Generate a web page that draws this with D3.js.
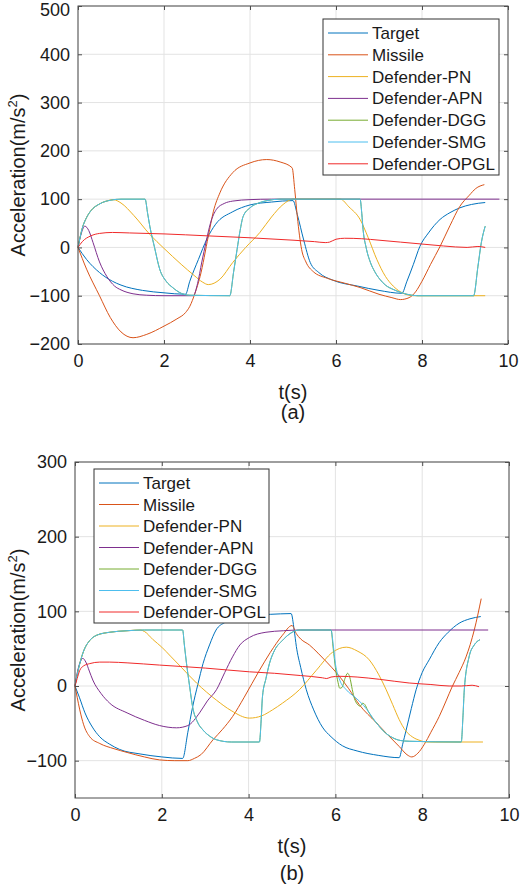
<!DOCTYPE html>
<html>
<head>
<meta charset="utf-8">
<script src="https://cdn.jsdelivr.net/npm/d3@7"></script>
<style>
  body { margin: 0; background: #fff; }
  text { font-family: "Liberation Sans", Arial, sans-serif; fill: #1a1a1a; }
</style>
</head>
<body>
<div id="chart"></div>
<script>
// series names + colours (MATLAB default order)
const seriesNames = ["Target", "Missile", "Defender-PN", "Defender-APN", "Defender-DGG", "Defender-SMG", "Defender-OPGL"];
const colors = ["#0072BD", "#D95319", "#EDB120", "#7E2F8E", "#77AC30", "#4DBEEE", "#F02A2A"];

const xTicks = [0, 2, 4, 6, 8, 10];
const yTicksA = [-200, -100, 0, 100, 200, 300, 400, 500];
const yTicksB = [-100, 0, 100, 200, 300];

// ---- panel (a) : [t, acceleration]
const targetA = [[0,0],[0.2,-25],[0.5,-52],[0.8,-70],[1.0,-78],[1.5,-89],[2.0,-94],[2.5,-97],[2.6,-70],[2.8,-25],[3.0,18],[3.2,48],[3.6,74],[4.0,88],[4.5,94],[5.0,97],[5.1,68],[5.25,15],[5.4,-31],[5.6,-52],[5.93,-68],[6.5,-80],[7.0,-89],[7.53,-95],[7.65,-70],[7.8,-35],[7.95,2],[8.15,30],[8.42,58],[8.65,72],[8.88,82],[9.15,89],[9.47,93]];
const missileA = [[0,0],[0.2,-45],[0.5,-100],[0.75,-145],[1.0,-175],[1.28,-187],[1.6,-180],[2.0,-163],[2.3,-148],[2.5,-135],[2.6,-122],[2.72,-95],[2.84,-60],[3.03,23],[3.15,75],[3.3,113],[3.6,155],[4.0,175],[4.39,182],[4.7,177],[4.98,165],[5.04,120],[5.1,64],[5.2,-4],[5.3,-30],[5.47,-50],[5.8,-64],[6.2,-74],[6.56,-83],[7.0,-97],[7.3,-104],[7.5,-108],[7.7,-104],[7.85,-92],[8.0,-70],[8.2,-35],[8.42,2],[8.65,45],[8.88,85],[9.1,108],[9.25,122],[9.45,130]];
const pnA = [[0,0],[0.1,40],[0.2,62],[0.3,76],[0.5,90],[0.7,97],[0.82,99],[1.0,92],[1.3,66],[1.67,27],[2.0,-2],[2.4,-35],[2.7,-58],[2.9,-72],[3.03,-77],[3.3,-66],[3.6,-31],[3.9,0],[4.23,31],[4.5,63],[4.77,89],[5.0,100],[6.1,100],[6.3,84],[6.56,58],[6.75,20],[6.95,-25],[7.15,-60],[7.33,-80],[7.5,-92],[7.65,-98],[7.8,-100],[9.47,-100]];
const apnA = [[0,0],[0.08,30],[0.16,44],[0.25,35],[0.35,10],[0.5,-30],[0.67,-60],[0.85,-80],[1.0,-88],[1.28,-96],[1.6,-99],[2.0,-100],[2.68,-100],[2.78,-75],[2.88,-30],[2.98,12],[3.08,50],[3.22,79],[3.4,91],[3.6,96],[4.0,99],[4.5,100],[9.8,100]];
const smgA = [[0,0],[0.1,40],[0.2,62],[0.3,76],[0.5,90],[0.77,98],[1.0,100],[1.56,100],[1.62,70],[1.67,44],[1.78,0],[1.9,-45],[2.05,-70],[2.2,-83],[2.4,-95],[2.6,-99],[3.53,-100],[3.62,-50],[3.7,-4],[3.77,35],[3.84,64],[4.0,82],[4.2,92],[4.4,97],[4.7,100],[6.56,100],[6.6,70],[6.63,37],[6.7,0],[6.8,-31],[6.9,-50],[7.02,-66],[7.15,-78],[7.33,-87],[7.5,-93],[7.65,-97],[7.9,-100],[9.2,-100],[9.3,-40],[9.38,10],[9.47,44]];
const dggA = smgA; // hidden under SMG in (a)
const opglA = [[0,0],[0.1,12],[0.3,24],[0.5,29],[0.8,31],[1.2,30],[2,28],[3,24],[4,20],[5,15],[5.5,12],[5.75,10],[5.85,11],[6.0,17],[6.2,19],[6.6,18],[7.0,15],[7.5,11],[8.0,7],[8.5,3],[9.05,0],[9.3,2],[9.47,0]];

// ---- panel (b)
const targetB = [[0,0],[0.1,-15],[0.23,-36],[0.4,-55],[0.57,-68],[0.8,-78],[1.03,-85],[1.5,-91],[2.0,-95],[2.48,-97],[2.6,-62],[2.71,-28],[2.83,2],[2.95,30],[3.1,55],[3.25,75],[3.45,85],[3.63,90],[4.02,95],[4.5,96],[4.98,97],[5.05,75],[5.1,53],[5.2,25],[5.33,-5],[5.5,-32],[5.7,-55],[5.9,-68],[6.16,-80],[6.5,-87],[7.0,-93],[7.47,-96],[7.55,-78],[7.63,-59],[7.75,-30],[7.86,-5],[8.0,18],[8.16,35],[8.39,58],[8.6,72],[8.85,84],[9.1,90],[9.35,93]];
const missileB = [[0,0],[0.05,-15],[0.11,-32],[0.2,-52],[0.34,-68],[0.57,-77],[0.9,-84],[1.2,-89],[1.6,-95],[1.95,-99],[2.3,-100],[2.6,-100],[2.75,-97],[2.9,-92],[3.18,-72],[3.4,-58],[3.63,-41],[3.9,-15],[4.25,21],[4.5,45],[4.78,68],[5.0,81],[5.1,70],[5.2,63],[5.4,55],[5.6,44],[5.8,32],[6.02,18],[6.3,-3],[6.55,-25],[6.94,-49],[7.2,-65],[7.47,-81],[7.65,-92],[7.76,-95],[7.9,-90],[8.05,-78],[8.2,-62],[8.39,-41],[8.55,-20],[8.69,-1],[8.85,18],[9.01,39],[9.2,75],[9.36,117]];
const pnB = [[0,0],[0.05,15],[0.11,30],[0.2,47],[0.34,61],[0.5,68],[0.8,72],[1.2,74],[1.5,75],[1.6,73],[1.8,62],[2.0,52],[2.2,40],[2.45,25],[2.8,4],[3.26,-19],[3.6,-33],[4.02,-43],[4.3,-40],[4.55,-32],[4.78,-23],[5.17,-5],[5.56,21],[5.93,45],[6.25,52],[6.5,47],[6.78,35],[7.0,15],[7.17,-5],[7.32,-25],[7.47,-45],[7.62,-60],[7.77,-68],[7.95,-73],[8.1,-75],[9.4,-75]];
const apnB = [[0,0],[0.06,20],[0.12,32],[0.18,37],[0.25,32],[0.33,20],[0.41,8],[0.6,-10],[0.8,-23],[1.2,-36],[1.6,-46],[1.95,-53],[2.34,-56],[2.6,-53],[2.87,-36],[3.05,-20],[3.26,-5],[3.45,18],[3.63,39],[3.8,55],[4.02,65],[4.4,72],[4.8,74],[5.2,75],[9.52,75]];
const dggB = [[0,0],[0.05,15],[0.11,30],[0.2,47],[0.34,61],[0.5,68],[0.8,72],[1.2,74],[1.6,75],[2.48,75],[2.52,55],[2.57,30],[2.64,0],[2.71,-28],[2.82,-48],[2.95,-59],[3.1,-67],[3.26,-72],[3.6,-75],[4.25,-75],[4.29,-45],[4.32,-14],[4.4,10],[4.48,30],[4.6,48],[4.78,61],[4.95,70],[5.17,75],[5.9,75],[5.95,50],[6.0,25],[6.06,5],[6.1,-3],[6.15,-2],[6.22,10],[6.28,17],[6.33,12],[6.39,-5],[6.44,-17],[6.5,-24],[6.57,-27],[6.63,-23],[6.68,-25],[6.74,-32],[6.82,-40],[6.94,-49],[7.1,-60],[7.31,-69],[7.5,-73],[7.7,-74],[8.9,-75],[8.94,-40],[8.97,-5],[9.08,39],[9.2,55],[9.33,62]];
const smgB = [[0,0],[0.05,15],[0.11,30],[0.2,47],[0.34,61],[0.5,68],[0.8,72],[1.2,74],[1.6,75],[2.48,75],[2.52,55],[2.57,30],[2.64,0],[2.71,-28],[2.82,-48],[2.95,-59],[3.1,-67],[3.26,-72],[3.6,-75],[4.25,-75],[4.29,-45],[4.32,-14],[4.4,10],[4.48,30],[4.6,48],[4.78,61],[4.95,70],[5.17,75],[5.9,75],[5.95,55],[6.0,30],[6.1,8],[6.25,-5],[6.45,-15],[6.65,-26],[6.94,-49],[7.1,-60],[7.31,-69],[7.5,-73],[7.7,-74],[8.9,-75],[8.94,-40],[8.97,-5],[9.08,39],[9.2,55],[9.33,62]];
const opglB = [[0,0],[0.05,10],[0.11,21],[0.2,27],[0.34,30],[0.57,32],[0.8,32],[1.2,31],[1.95,28],[3.0,24],[4.02,19],[4.6,17],[5.2,14],[5.7,11],[5.8,10],[5.9,12],[6.1,13],[6.5,12],[7.01,9],[7.7,4],[8.2,2],[8.62,0],[8.9,0],[9.15,1],[9.31,-1]];

const svg = d3.select("#chart").append("svg")
    .attr("width", 520)
    .attr("height", 886);

function drawPanel(p) {
    let x = d3.scaleLinear().domain([0, 10]).range([p.left, p.right]);
    let y = d3.scaleLinear().domain(p.yDomain).range([p.bottom, p.top]);
    let g = svg.append("g");

    // grid
    xTicks.forEach(t => {
        g.append("line").attr("x1", x(t)).attr("x2", x(t))
            .attr("y1", p.top).attr("y2", p.bottom)
            .attr("stroke", "#e3e3e3").attr("stroke-width", 1);
    });
    p.yTicks.forEach(t => {
        g.append("line").attr("x1", p.left).attr("x2", p.right)
            .attr("y1", y(t)).attr("y2", y(t))
            .attr("stroke", "#e3e3e3").attr("stroke-width", 1);
    });

    // lines
    let line = d3.line()
        .x(d => x(d[0]))
        .y(d => y(d[1]))
        .curve(d3.curveMonotoneX);
    p.series.forEach((s, i) => {
        g.append("path")
            .datum(s)
            .attr("d", line)
            .attr("fill", "none")
            .attr("stroke", colors[i])
            .attr("stroke-width", 1);
    });

    // box + inward ticks on all sides
    g.append("rect")
        .attr("x", p.left).attr("y", p.top)
        .attr("width", p.right - p.left).attr("height", p.bottom - p.top)
        .attr("fill", "none").attr("stroke", "#4d4d4d").attr("stroke-width", 1);

    let axB = d3.axisBottom(x).tickValues(xTicks).tickSizeInner(-4).tickSizeOuter(0).tickPadding(10);
    let axT = d3.axisTop(x).tickValues(xTicks).tickSizeInner(-4).tickSizeOuter(0).tickFormat("");
    let axL = d3.axisLeft(y).tickValues(p.yTicks).tickSizeInner(-4).tickSizeOuter(0).tickPadding(8);
    let axR = d3.axisRight(y).tickValues(p.yTicks).tickSizeInner(-4).tickSizeOuter(0).tickFormat("");

    [[axB, `translate(0,${p.bottom})`], [axT, `translate(0,${p.top})`],
     [axL, `translate(${p.left},0)`], [axR, `translate(${p.right},0)`]].forEach(a => {
        let ag = g.append("g").attr("transform", a[1]).call(a[0]);
        ag.select(".domain").remove();
        ag.selectAll("line").attr("stroke", "#4d4d4d");
        ag.selectAll("text").attr("font-size", 18)
            .attr("font-family", "Liberation Sans, Arial, sans-serif").attr("fill", "#1a1a1a");
    });
    // keep the top tick label inside the page
    g.selectAll("text").filter(function() { return +this.textContent === p.yDomain[1] && y(p.yDomain[1]) < 10; })
        .attr("dy", "0.5em");

    // axis titles
    let yl = g.append("text")
        .attr("transform", `translate(${p.ylabelX},${(p.top + p.bottom) / 2}) rotate(-90)`)
        .attr("text-anchor", "middle")
        .attr("font-size", 20);
    yl.append("tspan").text("Acceleration(m/s");
    yl.append("tspan").text("2").attr("font-size", 13).attr("dy", -8);
    yl.append("tspan").text(")").attr("dy", 8);

    g.append("text").attr("x", (p.left + p.right) / 2).attr("y", p.tLabelY)
        .attr("text-anchor", "middle").attr("font-size", 20).text("t(s)");
    g.append("text").attr("x", (p.left + p.right) / 2).attr("y", p.capY)
        .attr("text-anchor", "middle").attr("font-size", 20).text(p.caption);

    // legend
    let lg = g.append("g");
    lg.append("rect")
        .attr("x", p.legend.x).attr("y", p.legend.y)
        .attr("width", p.legend.w).attr("height", p.legend.h)
        .attr("fill", "#fff").attr("stroke", "#333").attr("stroke-width", 1);
    seriesNames.forEach((name, i) => {
        let cy = p.legend.row0 + i * p.legend.step;
        lg.append("line")
            .attr("x1", p.legend.x + 5).attr("x2", p.legend.x + 45)
            .attr("y1", cy).attr("y2", cy)
            .attr("stroke", colors[i]).attr("stroke-width", 1);
        lg.append("text")
            .attr("x", p.legend.x + 49).attr("y", cy + 6)
            .attr("font-size", 17).text(name);
    });
}

drawPanel({
    left: 78, right: 508, top: 6, bottom: 344,
    yDomain: [-200, 500], yTicks: yTicksA,
    series: [targetA, missileA, pnA, apnA, dggA, smgA, opglA],
    ylabelX: 25, tLabelY: 399, capY: 419, caption: "(a)",
    legend: {x: 323, y: 19, w: 176, h: 156, row0: 33, step: 21.8}
});

drawPanel({
    left: 75, right: 509, top: 462, bottom: 798,
    yDomain: [-150, 300], yTicks: yTicksB,
    series: [targetB, missileB, pnB, apnB, dggB, smgB, opglB],
    ylabelX: 25, tLabelY: 853, capY: 880, caption: "(b)",
    legend: {x: 94, y: 469, w: 175, h: 154, row0: 483, step: 21.5}
});
</script>
</body>
</html>
